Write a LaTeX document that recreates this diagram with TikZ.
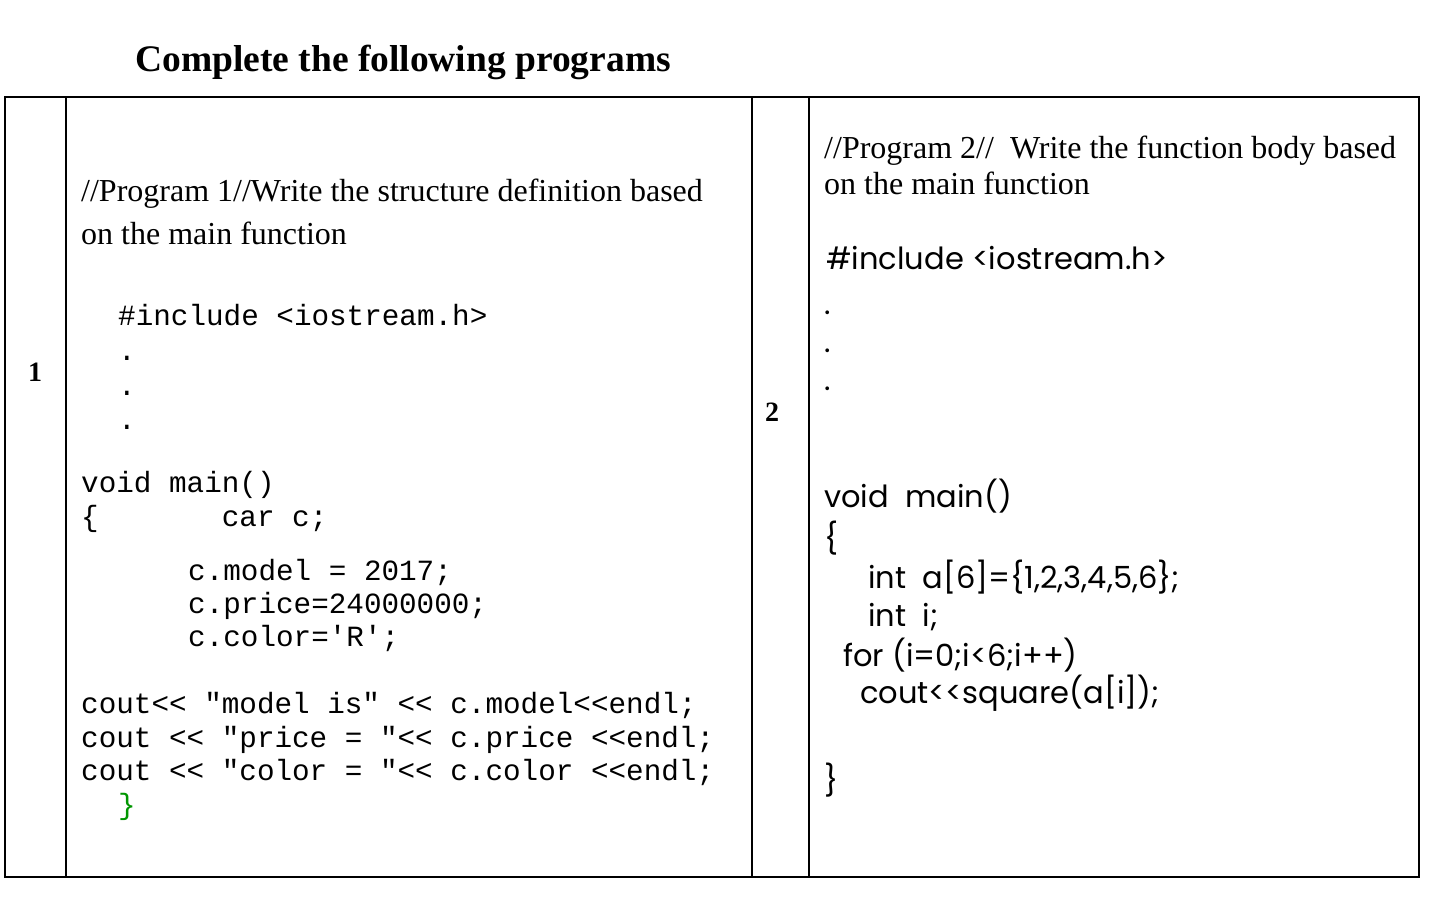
\documentclass[tikz,border=0pt]{standalone}
\usepackage{fontspec}
\setmainfont{Liberation Serif}
\newfontfamily\cmono{Liberation Mono}
\newfontfamily\csans{Poppins}
\begin{document}
\begin{tikzpicture}[x=1pt,y=-1pt,
  tx/.style={anchor=base west,inner sep=0pt,font=\fontsize{32}{38}\selectfont},
  mo/.style={anchor=base west,inner sep=0pt,font=\cmono\fontsize{29.3}{34}\selectfont},
  sa/.style={anchor=base west,inner sep=0pt,font=\csans\fontsize{30.5}{36}\selectfont},
  grid/.style={line width=1.5pt}]
\useasboundingbox (0,0) rectangle (1437,905);
\node[anchor=base west,inner sep=0pt,font=\bfseries\fontsize{37.5}{44}\selectfont] (title) at (135,71) {Complete the following programs};
\draw[grid] (5,97) rectangle (1419,877);
\draw[grid] (66,97) -- (66,877);
\draw[grid] (752,97) -- (752,877);
\draw[grid] (809,97) -- (809,877);
\node[tx,font=\bfseries\fontsize{28}{32}\selectfont] (n1) at (28,381) {1};
\node[tx,font=\bfseries\fontsize{28}{32}\selectfont] (n2) at (765,421) {2};
\node[tx] (l1) at (81,201) {//Program 1//Write the structure definition based};
\node[tx] (l2) at (81,244) {on the main function};
\node[mo] (m1) at (118,325) {\#include <iostream.h>};
\node[mo] (d1) at (118,360) {.};
\node[mo] (d2) at (118,395) {.};
\node[mo] (d3) at (118,429) {.};
\node[mo] (m2) at (81,492) {void main()};
\node[mo] (m3) at (81,526) {\{\ \ \ \ \ \ \ car c;};
\node[mo] (m4) at (188,580) {c.model = 2017;};
\node[mo] (m5) at (188,613) {c.price=24000000;};
\node[mo] (m6) at (188,646) {c.color='R';};
\node[mo] (m7) at (81,713) {cout<< "model is" << c.model<<endl;};
\node[mo] (m8) at (81,747) {cout << "price = "<< c.price <<endl;};
\node[mo] (m9) at (81,780) {cout << "color = "<< c.color <<endl;};
\node[mo,text={rgb,255:red,0;green,150;blue,0}] (m10) at (118,814) {\}};
\node[tx] (r1) at (824,158) {//Program 2//\ \ Write the function body based};
\node[tx] (r2) at (824,194) {on the main function};
\node[sa] (s1) at (826,269) {\#include <iostream.h>};
\node[sa] (e1) at (824,314) {.};
\node[sa] (e2) at (824,352) {.};
\node[sa] (e3) at (824,390) {.};
\node[sa] (s2) at (824,507) {void\ \ main()};
\node[sa] (s3) at (824,549) {\{};
\node[sa] (s4) at (868,588) {int\ \ a[6]=\{1,2,3,4,5,6\};};
\node[sa] (s5) at (868,626) {int\ \ i;};
\node[sa] (s6) at (843,666) {for (i=0;i<6;i++)};
\node[sa] (s7) at (860,703) {cout<<square(a[i]);};
\node[sa] (s8) at (824,791) {\}};
\end{tikzpicture}
\end{document}
